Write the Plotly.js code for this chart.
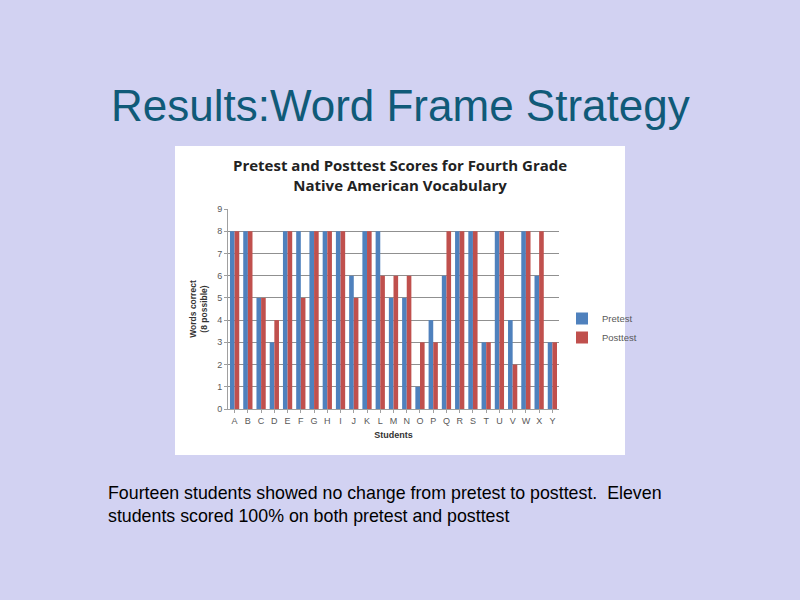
<!DOCTYPE html>
<html><head><meta charset="utf-8">
<script src="https://cdn.plot.ly/plotly-3.0.1.min.js"></script>
<style>html,body{margin:0;padding:0;background:#d2d2f2;}#c{width:800px;height:600px;}</style>
</head><body><div id="c"></div>
<script>
const students = ["A","B","C","D","E","F","G","H","I","J","K","L","M","N","O","P","Q","R","S","T","U","V","W","X","Y"];
const pretest  = [8,8,5,3,8,8,8,8,8,6,8,8,5,5,1,4,6,8,8,3,8,4,8,6,3];
const posttest = [8,8,5,4,8,5,8,8,8,5,8,6,6,6,3,3,8,8,8,3,8,2,8,8,3];
const yTicks = [0,1,2,3,4,5,6,7,8,9];

const traces = [
  {type:'bar', name:'Pretest', x:students, y:pretest, marker:{color:'#4f81bd'}},
  {type:'bar', name:'Posttest', x:students, y:posttest, marker:{color:'#c0504d'}}
];
const layout = {
  width:800, height:600,
  paper_bgcolor:'#d2d2f2', plot_bgcolor:'#ffffff',
  margin:{l:0,r:0,t:0,b:0},
  barmode:'group', bargap:0.3, bargroupgap:0,
  font:{family:'Liberation Sans, Arial, sans-serif'},
  xaxis:{domain:[228/800,559/800], anchor:'y', tickfont:{size:9,color:'#595959'},
    showline:true, linecolor:'#a0a0a0', ticks:'outside', ticklen:3, tickcolor:'#a0a0a0',
    title:{text:'<b>Students</b>', font:{size:9,color:'#333'}, standoff:6}},
  yaxis:{domain:[(600-409)/600,(600-209)/600], anchor:'x', range:[0,9], tickvals:yTicks,
    tickfont:{size:9,color:'#595959'}, showgrid:true, gridcolor:'#909090', gridwidth:1,
    showline:true, linecolor:'#a0a0a0', ticks:'outside', ticklen:3, tickcolor:'#a0a0a0', zeroline:false,
    title:{text:'<b>Words correct<br>(8 possible)</b>', font:{size:8.5,color:'#333'}, standoff:8}},
  showlegend:true,
  legend:{x:562/800, y:(600-304)/600, xanchor:'left', yanchor:'top', bgcolor:'rgba(0,0,0,0)',
    font:{size:9.5,color:'#595959'}, itemwidth:30, tracegroupgap:4},
  shapes:[{type:'rect', xref:'paper', yref:'paper', x0:175/800, x1:625/800, y0:(600-455)/600, y1:(600-146)/600,
    fillcolor:'#ffffff', line:{width:0}, layer:'below'}],
  annotations:[
    {xref:'paper',yref:'paper',x:0.5,y:(600-105)/600,xanchor:'center',yanchor:'middle',showarrow:false,
     text:'Results:Word Frame Strategy', font:{size:44,color:'#105a78',family:'Liberation Sans, Arial, sans-serif'}},
    {xref:'paper',yref:'paper',x:400/800,y:(600-175)/600,xanchor:'center',yanchor:'middle',showarrow:false,
     text:'<b>Pretest and Posttest Scores for Fourth Grade<br>Native American Vocabulary</b>',
     font:{size:15,color:'#222',family:'Open Sans, sans-serif'}},
    {xref:'paper',yref:'paper',x:106/800,y:(600-504)/600,xanchor:'left',yanchor:'middle',showarrow:false,align:'left',
     text:'Fourteen students showed no change from pretest to posttest.  Eleven<br>students scored 100% on both pretest and posttest',
     font:{size:17.8,color:'#000',family:'Liberation Sans, Arial, sans-serif'}}
  ]
};
Plotly.newPlot('c', traces, layout, {displayModeBar:false});
</script></body></html>
